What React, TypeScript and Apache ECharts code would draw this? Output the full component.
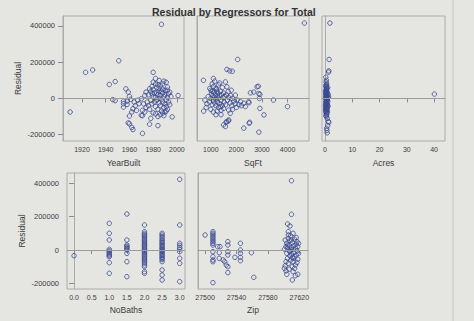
import React, { useEffect, useRef } from "react";
import * as echarts from "echarts";

const titleText = "Residual by Regressors for Total";
const yTicks = [-200000, 0, 200000, 400000];
const yearTicks = [1920, 1940, 1960, 1980, 2000];
const sqftTicks = [1000, 2000, 3000, 4000];
const acresTicks = [0, 10, 20, 30, 40];
const bathTicks = [0, 0.5, 1, 1.5, 2, 2.5, 3];
const zipTicks = [27500, 27540, 27580, 27620];

const yearBuiltPts = [
  [1987, 409000], [1923, 144000], [1929, 157000], [1951, 208000], [1943, 77000], [1948, 93000], [1980, 144000],
  [1910, -75000], [1946, -7000], [1948, -12000], [1971, -193000], [1984, -150000], [1977, -142000], [1959, -135000],
  [1960, -140000], [1962, -160000], [1963, -172000], [1960, -97000], [1971, -95000], [1996, -102000], [2001, 16000],
  [1957, 53000], [1959, 35000], [1960, 11000], [1955, -15000], [1955, -29000], [1955, -48000], [1958, -15000],
  [1958, -33000], [1963, -57000], [1962, -75000], [1966, -66000], [1970, -93000], [1971, -66000], [1964, -20000],
  [1968, -29000], [1970, -2000], [1973, 16000], [1974, 35000], [1977, 53000], [1979, 66000], [1982, 80000],
  [1985, 99000], [1988, 80000], [1991, 89000], [1992, 62000], [1994, 35000], [1991, -70000],
  [1976, 20000], [1978, 40000], [1978, -10000], [1979, -30000], [1980, 10000], [1980, 50000], [1981, -20000],
  [1981, 30000], [1982, -45000], [1982, 5000], [1983, 60000], [1983, -10000], [1984, 20000], [1984, -60000],
  [1985, 40000], [1985, -25000], [1985, 0], [1986, 15000], [1986, -40000], [1986, 70000], [1987, -5000],
  [1987, -70000], [1988, 30000], [1988, -20000], [1988, 50000], [1989, -50000], [1989, 10000], [1990, -30000],
  [1990, 20000], [1990, 45000], [1991, -10000], [1991, -45000], [1992, 5000], [1992, -60000], [1993, -20000],
  [1993, 25000], [1994, -35000], [1995, 10000], [1976, -40000], [1977, -60000], [1979, 25000], [1980, -80000],
  [1982, -85000], [1984, -100000], [1986, -90000], [1988, -80000], [1989, -95000], [1983, 30000], [1985, 55000],
  [1987, 40000], [1975, -20000], [1974, -50000], [1972, -30000], [1973, -75000], [1967, -10000], [1965, -40000],
  [1961, -5000], [1980, 90000], [1982, 110000], [1989, 95000], [1992, 45000], [1990, -75000], [1978, -110000],
  [1984, 75000],
];

const sqftPts = [
  [4660, 416000], [2050, 215000], [1630, 160000], [1735, 152000], [1840, 150000], [710, 100000], [1100, 110000],
  [2860, 67000], [2550, 31000], [2680, 35000], [2920, 22000], [2900, 0], [3450, -9000], [4000, -45000],
  [2920, -55000], [3080, -91000], [2490, -24000], [2290, -164000], [2500, -137000], [2520, -132000],
  [2880, -186000], [1500, -146000], [1600, -131000], [1690, -124000],
  [1000, 45000], [1100, 66000], [1200, 55000], [1240, 40000], [1570, 91000], [1630, 64000], [1680, 38000],
  [1800, 45000], [1960, 18000], [770, -9000], [850, -30000], [820, -50000], [720, -70000], [1370, -45000],
  [1500, -55000], [1700, -64000], [1760, -82000], [1700, -119000], [1630, -128000], [1570, -155000],
  [2030, -9000], [2160, -18000], [2290, -27000], [2350, -45000], [2480, -18000], [2810, 64000], [2880, 27000],
  [900, 10000], [950, -20000], [1000, 0], [1020, 25000], [1050, -35000], [1080, 15000], [1100, -10000],
  [1120, 35000], [1150, -25000], [1150, 5000], [1180, 20000], [1200, -40000], [1200, -5000], [1220, 50000],
  [1250, 10000], [1260, -20000], [1280, 30000], [1300, -50000], [1300, 0], [1330, 15000], [1350, -30000],
  [1380, 40000], [1400, -10000], [1420, 20000], [1450, -40000], [1480, 5000], [1500, 30000], [1520, -20000],
  [1550, 10000], [1580, -35000], [1600, 20000], [1650, -10000], [1700, 5000], [1750, -25000], [1780, 15000],
  [1820, -40000], [1850, 0], [1900, -15000], [1950, -30000], [1050, 80000], [1150, 95000], [1300, 75000],
  [1000, -60000], [1100, -75000], [1250, -70000], [1400, -90000], [1450, 60000], [1350, 85000], [1850, -60000],
  [2000, -50000], [2100, -35000], [2200, -40000], [1050, 40000], [1200, -90000], [960, 55000], [1400, -65000],
];

const acresPts = [
  [1.8, 416000], [1.5, 215000], [1.4, 152000], [1.3, 145000], [40.1, 24000],
  [0.3, 117000], [0.5, 100000], [0.4, 90000], [0.6, 80000], [0.3, 70000], [0.5, 62000], [0.7, 55000],
  [0.4, 48000], [0.2, 40000], [0.6, 35000], [0.8, 30000], [0.3, 25000], [0.5, 20000], [0.9, 15000],
  [0.4, 10000], [0.6, 5000], [0.2, 0], [0.7, -5000], [0.5, -10000], [1.0, -15000], [0.3, -20000],
  [0.6, -25000], [0.4, -30000], [0.8, -35000], [0.5, -40000], [0.3, -45000], [0.7, -50000], [0.4, -55000],
  [0.6, -60000], [0.2, -65000], [0.5, -70000], [0.9, -75000], [0.4, -80000], [0.6, -90000], [0.3, -95000],
  [0.5, -100000], [0.8, -110000], [1.2, -127000], [1.4, -132000], [1.0, -150000], [0.6, -165000],
  [0.7, -177000], [0.8, -190000], [0.4, 65000], [0.6, 45000], [0.3, 12000], [0.8, -8000], [0.4, -28000],
  [1.1, -42000], [0.5, -58000], [0.7, -12000], [0.3, 28000], [1.0, 60000], [0.5, 75000], [0.2, -38000],
  [0.9, -48000], [0.6, 18000], [0.4, -18000], [0.5, 38000], [0.7, 2000], [0.3, -72000], [1.2, 22000],
  [0.8, -62000], [0.6, -85000], [0.4, -3000], [1.3, 8000], [0.5, 52000], [0.9, -30000], [0.3, -52000],
  [0.7, 32000],
];

const bathsPts = [
  [0, -34000],
  [1, 160000], [1, 100000], [1, 60000], [1, 4000], [1, -5000], [1, -12000], [1, -20000], [1, -28000],
  [1, -35000], [1, -40000], [1, -76000], [1, -140000],
  [1.5, 216000], [1.5, 60000], [1.5, 30000], [1.5, 22000], [1.5, 15000], [1.5, 8000], [1.5, 0],
  [1.5, -20000], [1.5, -70000], [1.5, -160000],
  [2, 150000], [2, 110000], [2, 100000], [2, 92000], [2, 85000], [2, 78000], [2, 70000], [2, 62000],
  [2, 55000], [2, 48000], [2, 40000], [2, 33000], [2, 26000], [2, 20000], [2, 12000], [2, 5000], [2, -2000],
  [2, -10000], [2, -18000], [2, -25000], [2, -32000], [2, -40000], [2, -48000], [2, -55000], [2, -62000],
  [2, -70000], [2, -78000], [2, -90000], [2, -100000], [2, -130000], [2, -140000],
  [2.5, 100000], [2.5, 90000], [2.5, 80000], [2.5, 70000], [2.5, 60000], [2.5, 52000], [2.5, 44000],
  [2.5, 36000], [2.5, 28000], [2.5, 20000], [2.5, 12000], [2.5, 5000], [2.5, -3000], [2.5, -10000],
  [2.5, -18000], [2.5, -26000], [2.5, -34000], [2.5, -42000], [2.5, -50000], [2.5, -58000], [2.5, -70000],
  [2.5, -120000], [2.5, -150000], [2.5, -180000],
  [3, 424000], [3, 150000], [3, 40000], [3, 28000], [3, 16000], [3, 5000], [3, -10000], [3, -50000],
  [3, -80000], [3, -190000],
];

const zipPts = [
  [27500, 90000],
  [27510, 110000], [27510, 100000], [27510, 90000], [27510, 80000], [27510, 70000], [27510, 60000],
  [27510, 50000], [27510, 40000], [27510, 30000], [27510, -10000], [27510, -40000], [27510, -60000],
  [27510, -70000], [27510, -196000],
  [27516, 20000], [27519, 20000], [27518, -16000], [27518, -50000], [27523, -60000], [27525, -70000],
  [27527, -90000],
  [27529, 50000], [27529, 30000], [27529, -10000], [27529, -30000], [27529, -100000], [27529, -136000],
  [27538, -44000],
  [27545, 40000], [27545, 0], [27545, -20000], [27545, -44000], [27545, -64000],
  [27559, -16000], [27562, -164000],
  [27610, 416000], [27610, 214000], [27605, 156000], [27608, 144000], [27606, 90000], [27604, -146000],
  [27611, -180000], [27615, -154000], [27618, -146000], [27601, -110000], [27603, -125000],
  [27602, 60000], [27603, 20000], [27604, -20000], [27604, 40000], [27605, -50000], [27605, 10000],
  [27606, -80000], [27606, 70000], [27607, -5000], [27607, 30000], [27608, -35000], [27608, 55000],
  [27609, 0], [27609, -60000], [27610, 15000], [27610, -25000], [27611, 45000], [27611, -45000],
  [27612, 5000], [27612, -70000], [27613, 25000], [27613, -15000], [27614, 65000], [27614, -40000],
  [27615, 10000], [27615, -90000], [27616, 35000], [27616, -30000], [27617, -5000], [27617, 50000],
  [27618, -55000], [27618, 20000], [27619, -20000], [27603, -70000], [27602, -95000], [27609, 85000],
  [27612, 100000], [27606, 110000], [27611, -100000], [27614, -110000], [27608, -10000], [27610, 60000],
  [27613, -50000], [27605, 30000], [27616, 75000], [27617, -75000], [27601, 5000], [27619, 40000],
  [27607, -115000], [27612, -130000],
];

const FONT = "Liberation Sans, Arial, sans-serif";
const LABEL = "#3c3c3c";
const FRAME = "#ababab";

export default function App() {
  const ref = useRef<HTMLDivElement>(null);
  useEffect(() => {
    if (!ref.current) return;
    const chart = echarts.init(ref.current, null, { renderer: "svg" });

    const grids = [
      { left: 63, top: 16, width: 121, height: 125 },
      { left: 197, top: 16, width: 112, height: 125 },
      { left: 322, top: 16, width: 123, height: 125 },
      { left: 67, top: 173, width: 118, height: 116 },
      { left: 198, top: 173, width: 110, height: 116 },
    ].map((g) => ({ ...g, show: true, borderColor: FRAME, borderWidth: 1, backgroundColor: "transparent" }));

    const xDefs = [
      { name: "YearBuilt", min: 1904, max: 2006, ticks: yearTicks, fmt: (v: number) => String(v), gap: 17, margin: 5 },
      { name: "SqFt", min: 460, max: 4840, ticks: sqftTicks, fmt: (v: number) => String(v), gap: 17, margin: 5 },
      { name: "Acres", min: -1.1, max: 44, ticks: acresTicks, fmt: (v: number) => String(v), gap: 17, margin: 5 },
      { name: "NoBaths", min: -0.2, max: 3.15, ticks: bathTicks, fmt: (v: number) => v.toFixed(1), gap: 16, margin: 5 },
      { name: "Zip", min: 27491, max: 27631, ticks: zipTicks, fmt: (v: number) => String(v), gap: 16, margin: 5 },
    ];

    const xAxis = xDefs.map((d, i) => ({
      gridIndex: i,
      type: "value",
      min: d.min,
      max: d.max,
      name: d.name,
      nameLocation: "middle",
      nameGap: d.gap,
      nameTextStyle: { fontSize: 8.5, color: LABEL, fontFamily: FONT },
      axisLine: { show: true, lineStyle: { color: FRAME } },
      axisTick: { show: true, length: 4, customValues: d.ticks, lineStyle: { color: "#8a8a8a" } },
      axisLabel: { show: true, customValues: d.ticks, formatter: d.fmt, fontSize: 7, color: LABEL, fontFamily: FONT, margin: 5 },
      splitLine: { show: false },
    }));

    const rowRanges = [
      [-235000, 455000],
      [-235000, 455000],
      [-235000, 455000],
      [-234000, 462000],
      [-234000, 462000],
    ];

    const yAxis = rowRanges.map((r, i) => {
      const first = i === 0 || i === 3;
      return {
        gridIndex: i,
        type: "value",
        min: r[0],
        max: r[1],
        name: first ? "Residual" : "",
        nameLocation: "middle",
        nameGap: 41,
        nameTextStyle: { fontSize: 8.5, color: LABEL, fontFamily: FONT },
        axisLine: { show: true, lineStyle: { color: FRAME } },
        axisTick: { show: first, length: 5, customValues: yTicks, lineStyle: { color: "#8a8a8a" } },
        axisLabel: {
          show: first,
          customValues: yTicks,
          formatter: (v: number) => String(v),
          fontSize: 7.5,
          color: LABEL,
          fontFamily: FONT,
          margin: 8,
        },
        splitLine: { show: false },
      };
    });

    const datasets = [yearBuiltPts, sqftPts, acresPts, bathsPts, zipPts];
    const series = datasets.map((d, i) => ({
      type: "scatter",
      xAxisIndex: i,
      yAxisIndex: i,
      data: d,
      symbol: "circle",
      symbolSize: 4.5,
      itemStyle: { color: "rgba(0,0,0,0)", borderColor: "#3a4890", borderWidth: 1 },
      markLine: {
        silent: true,
        symbol: "none",
        label: { show: false },
        lineStyle: { color: "#9c9c9c", width: 1, type: "solid" },
        data: [{ yAxis: 0 }],
      },
    }));

    chart.setOption({
      animation: false,
      backgroundColor: "#e5e5e2",
      title: {
        text: titleText,
        left: 147,
        top: 1,
        textStyle: { fontSize: 10.5, fontWeight: "bold", color: "#333", fontFamily: FONT },
      },
      grid: grids,
      xAxis,
      yAxis,
      series,
      graphic: [
        { type: "line", shape: { x1: 453, y1: 0, x2: 453, y2: 321 }, style: { stroke: "#c4c4c2", lineWidth: 1 } },
      ],
    });
    return () => chart.dispose();
  }, []);

  return <div ref={ref} style={{ position: "fixed", left: 0, top: 0, width: 474, height: 321 }} />;
}
